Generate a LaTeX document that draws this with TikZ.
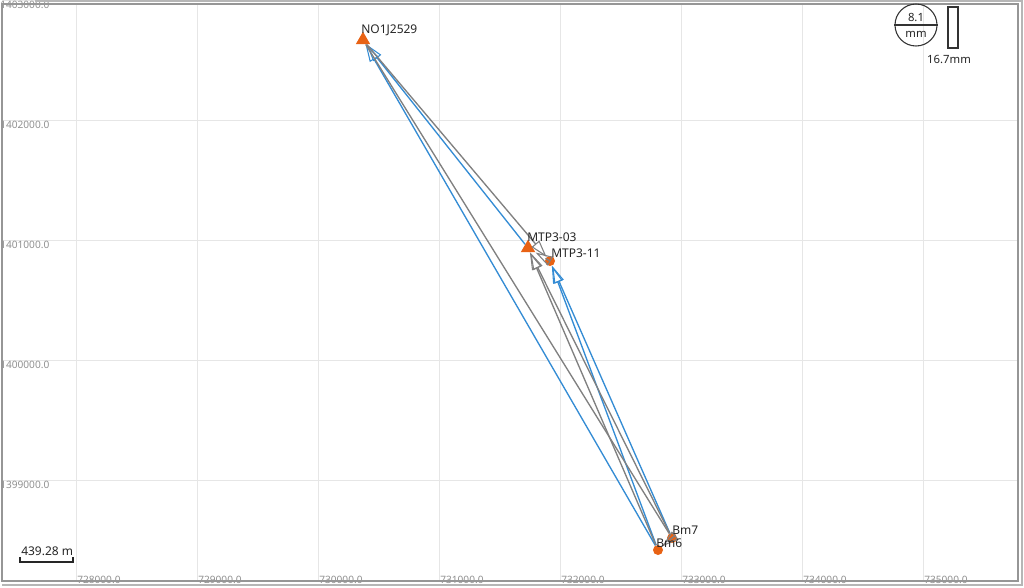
\documentclass[tikz,border=0pt]{standalone}
\usepackage{fontspec}
\setmainfont{Noto Sans}
\usetikzlibrary{arrows.meta,shapes.geometric}
\definecolor{gridc}{RGB}{230,230,230}
\definecolor{axisc}{RGB}{145,145,145}
\definecolor{framec}{RGB}{150,150,150}
\definecolor{bluec}{RGB}{52,140,212}
\definecolor{grayc}{RGB}{128,128,128}
\definecolor{orangec}{RGB}{232,98,20}
\begin{document}
\begin{tikzpicture}[x=0.75pt,y=-0.75pt,
  gridline/.style={draw=gridc, line width=0.75pt},
  axislabel/.style={text=axisc, font=\fontsize{7.6}{8}\selectfont, inner sep=0pt, anchor=north west},
  stalabel/.style={font=\fontsize{9}{10}\selectfont, inner sep=0pt, anchor=base west, text=black!85},
  tri/.style={regular polygon, regular polygon sides=3, fill=orangec, minimum size=12.5pt, inner sep=0pt},
  dot/.style={circle, fill=orangec, minimum size=7.5pt, inner sep=0pt},
  bl/.style={draw=bluec, line width=1pt},
  gr/.style={draw=grayc, line width=1pt},
  tip/.style={-{Triangle[open,length=13pt,width=7.5pt,line width=0.8pt]}},
  legtext/.style={font=\fontsize{8.5}{9}\selectfont, inner sep=0pt, text=black!85}
]
\useasboundingbox (0,0) rectangle (1024,587);
\fill[white] (0,0) rectangle (1024,587);
% grid
\foreach \k/\lab in {0/728000.0,1/729000.0,2/730000.0,3/731000.0,4/732000.0,5/733000.0,6/734000.0,7/735000.0}{
  \draw[gridline] ({76+121*\k},3) -- ({76+121*\k},581);
  \node[axislabel] (xl\k) at ({77+121*\k},576) {\lab};
}
\foreach \k/\lab in {0/1403000.0,1/1402000.0,2/1401000.0,3/1400000.0,4/1399000.0}{
  \draw[gridline] (2,{120*\k}) -- (1018,{120*\k});
  \node[axislabel] (yl\k) at (0,{1+120*\k}) {\lab};
}
% frame
\draw[framec, line width=1.1pt] (2,4) rectangle (1018,581);
\draw[framec!70, line width=1pt] (35,1) -- (1022,1) -- (1022,585) -- (2,585);
% stations
\node[tri] (no1) at (363,40) {};
\node[tri] (m03) at (528,248) {};
\node[dot] (m11) at (550,261) {};
\node[dot] (bm7) at (672,538) {};
\node[dot] (bm6) at (658,550) {};
% baselines
\draw[bl,tip] (m03) -- (no1);
\draw[bl,tip] (bm6) -- (no1);
\draw[bl,tip] (bm7) -- (m11);
\draw[bl,tip] (bm6) -- (m11);
\draw[gr,tip] (no1) -- (m11);
\draw[gr,tip] (bm7) -- (m03);
\draw[gr,tip] (bm6) -- (m03);
\draw[gr,tip] (m11) -- (m03);
\draw[gr] (no1) -- (bm7);
\draw[gr,tip] (bm7) -- (bm6);
% labels
\node[stalabel] (lno1) at (361,33) {NO1J2529};
\node[stalabel] (lm03) at (527,241) {MTP3-03};
\node[stalabel] (lm11) at (551,257) {MTP3-11};
\node[stalabel] (lbm7) at (672,534) {Bm7};
\node[stalabel] (lbm6) at (656,547) {Bm6};
% scale bar
\node[stalabel] (scl) at (21,555) {439.28 m};
\draw[line width=1.5pt, black!85] (20,557) -- (20,562) -- (73,562) -- (73,557);
% legend
\node[circle, draw=black!80, line width=0.8pt, minimum size=31.5pt, inner sep=0pt] (lc) at (916,25) {};
\draw[black!80, line width=0.8pt] (lc.west) -- (lc.east);
\node[legtext] (l81) at (916,17) {8.1};
\node[legtext] (lmm) at (916,34) {mm};
\node[draw=black!80, line width=0.8pt, minimum width=7.5pt, minimum height=30.75pt, inner sep=0pt] (lr) at (953,27.5) {};
\node[legtext] (l167) at (949,59) {16.7mm};
\end{tikzpicture}
\end{document}
